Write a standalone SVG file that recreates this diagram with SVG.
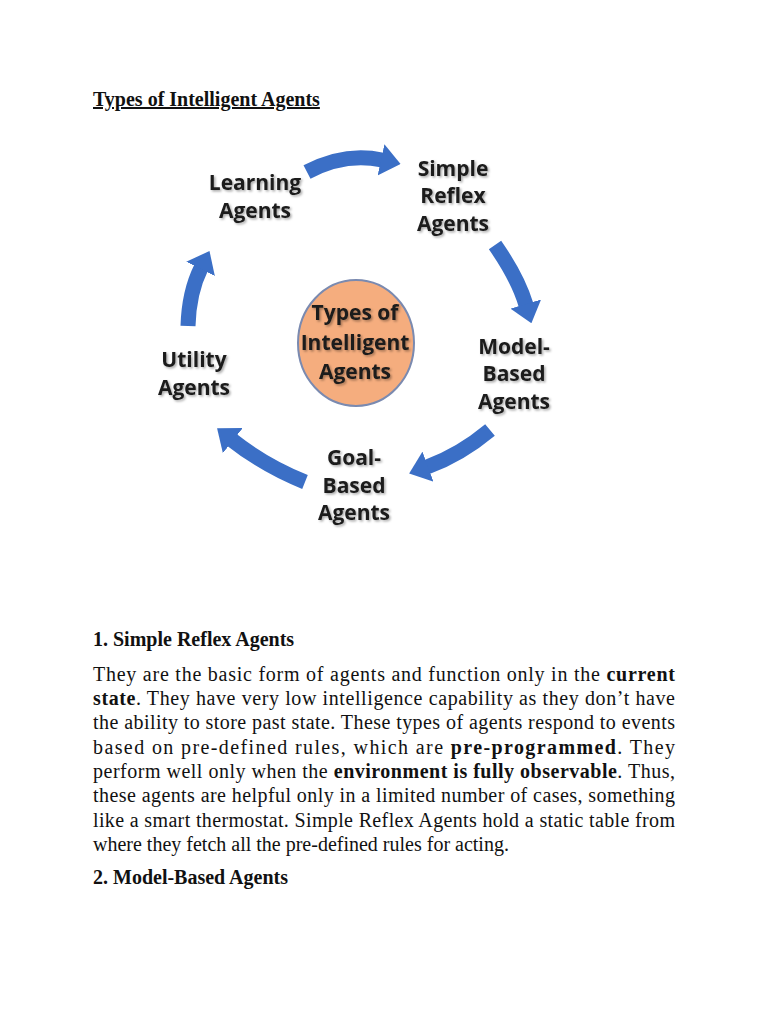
<svg xmlns="http://www.w3.org/2000/svg" width="768" height="1024" viewBox="0 0 768 1024">
<style>
.t{font-family:"Liberation Serif",serif;font-size:20px;fill:#111}
.b{font-weight:bold}
.lab{font-family:"Open Sans","Liberation Sans",sans-serif;font-weight:bold;font-size:21px;fill:#1a1a1a;text-anchor:middle}
.arr{fill:none;stroke:#3b6fc6;stroke-width:15}
</style>
<defs>
<marker id="h" viewBox="0 0 20 32" refX="1" refY="16" markerWidth="20" markerHeight="32" markerUnits="userSpaceOnUse" orient="auto"><path d="M0,0 L20,16 L0,32 z" fill="#3b6fc6"/></marker>
<filter id="s"><feDropShadow dx="1.5" dy="1.5" stdDeviation="1" flood-color="#000" flood-opacity="0.35"/></filter>
</defs>
<rect width="768" height="1024" fill="#fff"/>
<text x="93" y="106" class="t b" font-size="19" text-decoration="underline">Types of Intelligent Agents</text>
<g id="connectors">
<path class="arr" marker-end="url(#h)" d="M307,172 Q345,152 382,160"/>
<path class="arr" marker-end="url(#h)" d="M495,245 Q518,278 526,305"/>
<path class="arr" marker-end="url(#h)" d="M490,430 Q460,455 427,467"/>
<path class="arr" marker-end="url(#h)" d="M305,482 Q265,466 232,440"/>
<path class="arr" marker-end="url(#h)" d="M188,326 Q189,292 201,268"/>
</g>
<g id="center"><ellipse cx="356" cy="343" rx="58" ry="63" fill="#f5ad7e" stroke="#7a8ab0" stroke-width="2"/>
<text class="lab" filter="url(#s)"><tspan x="355" y="320">Types of</tspan><tspan x="355" y="350">Intelligent</tspan><tspan x="355" y="379">Agents</tspan></text></g>
<g id="learning"><text class="lab" filter="url(#s)"><tspan x="255" y="190">Learning</tspan><tspan x="255" y="218">Agents</tspan></text></g>
<g id="simple"><text class="lab" filter="url(#s)"><tspan x="453" y="176">Simple</tspan><tspan x="453" y="203">Reflex</tspan><tspan x="453" y="231">Agents</tspan></text></g>
<g id="model"><text class="lab" filter="url(#s)"><tspan x="514" y="354">Model-</tspan><tspan x="514" y="381">Based</tspan><tspan x="514" y="409">Agents</tspan></text></g>
<g id="goal"><text class="lab" filter="url(#s)"><tspan x="354" y="465">Goal-</tspan><tspan x="354" y="493">Based</tspan><tspan x="354" y="520">Agents</tspan></text></g>
<g id="utility"><text class="lab" filter="url(#s)"><tspan x="194" y="367">Utility</tspan><tspan x="194" y="395">Agents</tspan></text></g>
<text x="93" y="646" class="t b">1. Simple Reflex Agents</text>
<text x="93" y="681" class="t" textLength="582" lengthAdjust="spacing">They are the basic form of agents and function only in the <tspan class="b">current</tspan></text>
<text x="93" y="705" class="t" textLength="582" lengthAdjust="spacing"><tspan class="b">state</tspan>. They have very low intelligence capability as they don’t have</text>
<text x="93" y="729" class="t" textLength="582" lengthAdjust="spacing">the ability to store past state. These types of agents respond to events</text>
<text x="93" y="754" class="t" textLength="582" lengthAdjust="spacing">based on pre-defined rules, which are <tspan class="b">pre-programmed</tspan>. They</text>
<text x="93" y="778" class="t" textLength="582" lengthAdjust="spacing">perform well only when the <tspan class="b">environment is fully observable</tspan>. Thus,</text>
<text x="93" y="802" class="t" textLength="582" lengthAdjust="spacing">these agents are helpful only in a limited number of cases, something</text>
<text x="93" y="827" class="t" textLength="582" lengthAdjust="spacing">like a smart thermostat. Simple Reflex Agents hold a static table from</text>
<text x="93" y="851" class="t">where they fetch all the pre-defined rules for acting.</text>
<text x="93" y="884" class="t b">2. Model-Based Agents</text>
</svg>
